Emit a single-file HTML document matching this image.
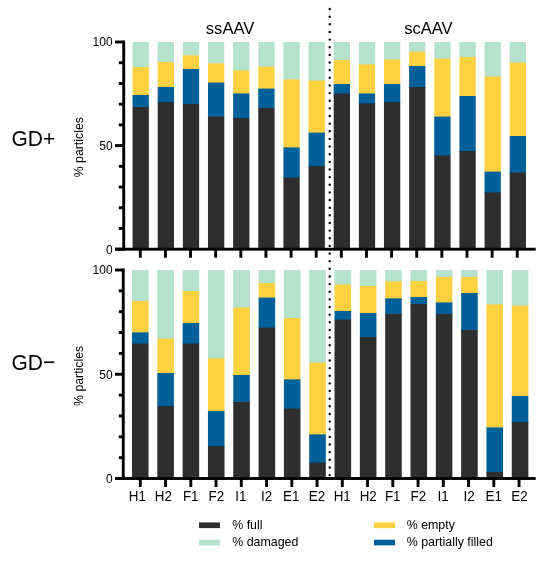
<!DOCTYPE html>
<html><head><meta charset="utf-8"><title>AAV particles</title>
<style>html,body{margin:0;padding:0;background:#fff}svg{display:block}text{font-family:"Liberation Sans",sans-serif;fill:#000}</style>
</head><body>
<svg width="550" height="564" viewBox="0 0 550 564">
<rect width="550" height="564" fill="#fff"/>
<rect x="132.55" y="42.00" width="16.30" height="25.70" fill="#b5e2cd"/>
<rect x="132.55" y="67.00" width="16.30" height="28.70" fill="#fed141"/>
<rect x="132.55" y="95.00" width="16.30" height="12.70" fill="#00609a"/>
<rect x="132.55" y="107.00" width="16.30" height="142.20" fill="#2e2e2e"/>
<rect x="157.69" y="42.00" width="16.30" height="20.70" fill="#b5e2cd"/>
<rect x="157.69" y="62.00" width="16.30" height="25.70" fill="#fed141"/>
<rect x="157.69" y="87.00" width="16.30" height="15.70" fill="#00609a"/>
<rect x="157.69" y="102.00" width="16.30" height="147.20" fill="#2e2e2e"/>
<rect x="182.83" y="42.00" width="16.30" height="14.10" fill="#b5e2cd"/>
<rect x="182.83" y="55.40" width="16.30" height="14.30" fill="#fed141"/>
<rect x="182.83" y="69.00" width="16.30" height="35.70" fill="#00609a"/>
<rect x="182.83" y="104.00" width="16.30" height="145.20" fill="#2e2e2e"/>
<rect x="207.98" y="42.00" width="16.30" height="22.10" fill="#b5e2cd"/>
<rect x="207.98" y="63.40" width="16.30" height="19.90" fill="#fed141"/>
<rect x="207.98" y="82.60" width="16.30" height="34.70" fill="#00609a"/>
<rect x="207.98" y="116.60" width="16.30" height="132.60" fill="#2e2e2e"/>
<rect x="233.12" y="42.00" width="16.30" height="29.10" fill="#b5e2cd"/>
<rect x="233.12" y="70.40" width="16.30" height="23.70" fill="#fed141"/>
<rect x="233.12" y="93.40" width="16.30" height="25.30" fill="#00609a"/>
<rect x="233.12" y="118.00" width="16.30" height="131.20" fill="#2e2e2e"/>
<rect x="258.26" y="42.00" width="16.30" height="25.30" fill="#b5e2cd"/>
<rect x="258.26" y="66.60" width="16.30" height="22.70" fill="#fed141"/>
<rect x="258.26" y="88.60" width="16.30" height="20.10" fill="#00609a"/>
<rect x="258.26" y="108.00" width="16.30" height="141.20" fill="#2e2e2e"/>
<rect x="283.40" y="42.00" width="16.30" height="38.10" fill="#b5e2cd"/>
<rect x="283.40" y="79.40" width="16.30" height="68.70" fill="#fed141"/>
<rect x="283.40" y="147.40" width="16.30" height="30.90" fill="#00609a"/>
<rect x="283.40" y="177.60" width="16.30" height="71.60" fill="#2e2e2e"/>
<rect x="308.54" y="42.00" width="16.30" height="39.30" fill="#b5e2cd"/>
<rect x="308.54" y="80.60" width="16.30" height="52.70" fill="#fed141"/>
<rect x="308.54" y="132.60" width="16.30" height="34.10" fill="#00609a"/>
<rect x="308.54" y="166.00" width="16.30" height="83.20" fill="#2e2e2e"/>
<rect x="333.69" y="42.00" width="16.30" height="18.70" fill="#b5e2cd"/>
<rect x="333.69" y="60.00" width="16.30" height="24.70" fill="#fed141"/>
<rect x="333.69" y="84.00" width="16.30" height="10.30" fill="#00609a"/>
<rect x="333.69" y="93.60" width="16.30" height="155.60" fill="#2e2e2e"/>
<rect x="358.83" y="42.00" width="16.30" height="23.10" fill="#b5e2cd"/>
<rect x="358.83" y="64.40" width="16.30" height="29.70" fill="#fed141"/>
<rect x="358.83" y="93.40" width="16.30" height="10.70" fill="#00609a"/>
<rect x="358.83" y="103.40" width="16.30" height="145.80" fill="#2e2e2e"/>
<rect x="383.97" y="42.00" width="16.30" height="18.10" fill="#b5e2cd"/>
<rect x="383.97" y="59.40" width="16.30" height="25.30" fill="#fed141"/>
<rect x="383.97" y="84.00" width="16.30" height="18.70" fill="#00609a"/>
<rect x="383.97" y="102.00" width="16.30" height="147.20" fill="#2e2e2e"/>
<rect x="409.11" y="42.00" width="16.30" height="10.30" fill="#b5e2cd"/>
<rect x="409.11" y="51.60" width="16.30" height="15.10" fill="#fed141"/>
<rect x="409.11" y="66.00" width="16.30" height="21.70" fill="#00609a"/>
<rect x="409.11" y="87.00" width="16.30" height="162.20" fill="#2e2e2e"/>
<rect x="434.25" y="42.00" width="16.30" height="17.30" fill="#b5e2cd"/>
<rect x="434.25" y="58.60" width="16.30" height="58.70" fill="#fed141"/>
<rect x="434.25" y="116.60" width="16.30" height="39.50" fill="#00609a"/>
<rect x="434.25" y="155.40" width="16.30" height="93.80" fill="#2e2e2e"/>
<rect x="459.40" y="42.00" width="16.30" height="15.70" fill="#b5e2cd"/>
<rect x="459.40" y="57.00" width="16.30" height="39.70" fill="#fed141"/>
<rect x="459.40" y="96.00" width="16.30" height="55.70" fill="#00609a"/>
<rect x="459.40" y="151.00" width="16.30" height="98.20" fill="#2e2e2e"/>
<rect x="484.54" y="42.00" width="16.30" height="35.30" fill="#b5e2cd"/>
<rect x="484.54" y="76.60" width="16.30" height="95.70" fill="#fed141"/>
<rect x="484.54" y="171.60" width="16.30" height="21.50" fill="#00609a"/>
<rect x="484.54" y="192.40" width="16.30" height="56.80" fill="#2e2e2e"/>
<rect x="509.68" y="42.00" width="16.30" height="21.30" fill="#b5e2cd"/>
<rect x="509.68" y="62.60" width="16.30" height="74.10" fill="#fed141"/>
<rect x="509.68" y="136.00" width="16.30" height="37.30" fill="#00609a"/>
<rect x="509.68" y="172.60" width="16.30" height="76.60" fill="#2e2e2e"/>
<rect x="122.25" y="40.55" width="2.9" height="210.10" fill="#000"/>
<rect x="115" y="247.75" width="420.70000000000005" height="2.9" fill="#000"/>
<rect x="115" y="247.75" width="8.70" height="2.9" fill="#000"/>
<rect x="118.8" y="227.03" width="4.90" height="2.9" fill="#000"/>
<rect x="118.8" y="206.31" width="4.90" height="2.9" fill="#000"/>
<rect x="118.8" y="185.59" width="4.90" height="2.9" fill="#000"/>
<rect x="118.8" y="164.87" width="4.90" height="2.9" fill="#000"/>
<rect x="115" y="144.15" width="8.70" height="2.9" fill="#000"/>
<rect x="118.8" y="123.43" width="4.90" height="2.9" fill="#000"/>
<rect x="118.8" y="102.71" width="4.90" height="2.9" fill="#000"/>
<rect x="118.8" y="81.99" width="4.90" height="2.9" fill="#000"/>
<rect x="118.8" y="61.27" width="4.90" height="2.9" fill="#000"/>
<rect x="115" y="40.55" width="8.70" height="2.9" fill="#000"/>
<rect x="138.85" y="249.20" width="2.9" height="8.5" fill="#000"/>
<rect x="163.98" y="249.20" width="2.9" height="8.5" fill="#000"/>
<rect x="189.11" y="249.20" width="2.9" height="8.5" fill="#000"/>
<rect x="214.24" y="249.20" width="2.9" height="8.5" fill="#000"/>
<rect x="239.37" y="249.20" width="2.9" height="8.5" fill="#000"/>
<rect x="264.50" y="249.20" width="2.9" height="8.5" fill="#000"/>
<rect x="289.63" y="249.20" width="2.9" height="8.5" fill="#000"/>
<rect x="314.76" y="249.20" width="2.9" height="8.5" fill="#000"/>
<rect x="339.89" y="249.20" width="2.9" height="8.5" fill="#000"/>
<rect x="365.02" y="249.20" width="2.9" height="8.5" fill="#000"/>
<rect x="390.15" y="249.20" width="2.9" height="8.5" fill="#000"/>
<rect x="415.28" y="249.20" width="2.9" height="8.5" fill="#000"/>
<rect x="440.41" y="249.20" width="2.9" height="8.5" fill="#000"/>
<rect x="465.54" y="249.20" width="2.9" height="8.5" fill="#000"/>
<rect x="490.67" y="249.20" width="2.9" height="8.5" fill="#000"/>
<rect x="515.80" y="249.20" width="2.9" height="8.5" fill="#000"/>
<text transform="translate(112.6,253.50) scale(1,1.05)" text-anchor="end" font-size="12">0</text>
<text transform="translate(112.6,149.90) scale(1,1.05)" text-anchor="end" font-size="12">50</text>
<text transform="translate(112.6,46.30) scale(1,1.05)" text-anchor="end" font-size="12">100</text>
<text transform="translate(83.3,147.2) rotate(-90)" text-anchor="middle" font-size="12.3">% particles</text>
<rect x="131.97" y="270.00" width="16.60" height="31.70" fill="#b5e2cd"/>
<rect x="131.97" y="301.00" width="16.60" height="32.10" fill="#fed141"/>
<rect x="131.97" y="332.40" width="16.60" height="11.90" fill="#00609a"/>
<rect x="131.97" y="343.60" width="16.60" height="134.90" fill="#2e2e2e"/>
<rect x="157.29" y="270.00" width="16.60" height="69.30" fill="#b5e2cd"/>
<rect x="157.29" y="338.60" width="16.60" height="35.10" fill="#fed141"/>
<rect x="157.29" y="373.00" width="16.60" height="33.70" fill="#00609a"/>
<rect x="157.29" y="406.00" width="16.60" height="72.50" fill="#2e2e2e"/>
<rect x="182.61" y="270.00" width="16.60" height="21.70" fill="#b5e2cd"/>
<rect x="182.61" y="291.00" width="16.60" height="32.70" fill="#fed141"/>
<rect x="182.61" y="323.00" width="16.60" height="21.30" fill="#00609a"/>
<rect x="182.61" y="343.60" width="16.60" height="134.90" fill="#2e2e2e"/>
<rect x="207.93" y="270.00" width="16.60" height="89.10" fill="#b5e2cd"/>
<rect x="207.93" y="358.40" width="16.60" height="53.30" fill="#fed141"/>
<rect x="207.93" y="411.00" width="16.60" height="35.70" fill="#00609a"/>
<rect x="207.93" y="446.00" width="16.60" height="32.50" fill="#2e2e2e"/>
<rect x="233.25" y="270.00" width="16.60" height="38.10" fill="#b5e2cd"/>
<rect x="233.25" y="307.40" width="16.60" height="68.30" fill="#fed141"/>
<rect x="233.25" y="375.00" width="16.60" height="27.70" fill="#00609a"/>
<rect x="233.25" y="402.00" width="16.60" height="76.50" fill="#2e2e2e"/>
<rect x="258.57" y="270.00" width="16.60" height="13.70" fill="#b5e2cd"/>
<rect x="258.57" y="283.00" width="16.60" height="15.30" fill="#fed141"/>
<rect x="258.57" y="297.60" width="16.60" height="30.70" fill="#00609a"/>
<rect x="258.57" y="327.60" width="16.60" height="150.90" fill="#2e2e2e"/>
<rect x="283.89" y="270.00" width="16.60" height="48.70" fill="#b5e2cd"/>
<rect x="283.89" y="318.00" width="16.60" height="62.10" fill="#fed141"/>
<rect x="283.89" y="379.40" width="16.60" height="29.90" fill="#00609a"/>
<rect x="283.89" y="408.60" width="16.60" height="69.90" fill="#2e2e2e"/>
<rect x="309.21" y="270.00" width="16.60" height="93.30" fill="#b5e2cd"/>
<rect x="309.21" y="362.60" width="16.60" height="72.50" fill="#fed141"/>
<rect x="309.21" y="434.40" width="16.60" height="28.90" fill="#00609a"/>
<rect x="309.21" y="462.60" width="16.60" height="15.90" fill="#2e2e2e"/>
<rect x="334.53" y="270.00" width="16.60" height="15.30" fill="#b5e2cd"/>
<rect x="334.53" y="284.60" width="16.60" height="27.10" fill="#fed141"/>
<rect x="334.53" y="311.00" width="16.60" height="9.30" fill="#00609a"/>
<rect x="334.53" y="319.60" width="16.60" height="158.90" fill="#2e2e2e"/>
<rect x="359.85" y="270.00" width="16.60" height="16.70" fill="#b5e2cd"/>
<rect x="359.85" y="286.00" width="16.60" height="27.70" fill="#fed141"/>
<rect x="359.85" y="313.00" width="16.60" height="24.70" fill="#00609a"/>
<rect x="359.85" y="337.00" width="16.60" height="141.50" fill="#2e2e2e"/>
<rect x="385.17" y="270.00" width="16.60" height="12.10" fill="#b5e2cd"/>
<rect x="385.17" y="281.40" width="16.60" height="17.70" fill="#fed141"/>
<rect x="385.17" y="298.40" width="16.60" height="16.30" fill="#00609a"/>
<rect x="385.17" y="314.00" width="16.60" height="164.50" fill="#2e2e2e"/>
<rect x="410.49" y="270.00" width="16.60" height="11.70" fill="#b5e2cd"/>
<rect x="410.49" y="281.00" width="16.60" height="16.70" fill="#fed141"/>
<rect x="410.49" y="297.00" width="16.60" height="7.70" fill="#00609a"/>
<rect x="410.49" y="304.00" width="16.60" height="174.50" fill="#2e2e2e"/>
<rect x="435.81" y="270.00" width="16.60" height="7.70" fill="#b5e2cd"/>
<rect x="435.81" y="277.00" width="16.60" height="26.10" fill="#fed141"/>
<rect x="435.81" y="302.40" width="16.60" height="12.30" fill="#00609a"/>
<rect x="435.81" y="314.00" width="16.60" height="164.50" fill="#2e2e2e"/>
<rect x="461.13" y="270.00" width="16.60" height="7.70" fill="#b5e2cd"/>
<rect x="461.13" y="277.00" width="16.60" height="16.70" fill="#fed141"/>
<rect x="461.13" y="293.00" width="16.60" height="37.70" fill="#00609a"/>
<rect x="461.13" y="330.00" width="16.60" height="148.50" fill="#2e2e2e"/>
<rect x="486.45" y="270.00" width="16.60" height="35.10" fill="#b5e2cd"/>
<rect x="486.45" y="304.40" width="16.60" height="123.70" fill="#fed141"/>
<rect x="486.45" y="427.40" width="16.60" height="45.30" fill="#00609a"/>
<rect x="486.45" y="472.00" width="16.60" height="6.50" fill="#2e2e2e"/>
<rect x="511.77" y="270.00" width="16.60" height="36.30" fill="#b5e2cd"/>
<rect x="511.77" y="305.60" width="16.60" height="91.10" fill="#fed141"/>
<rect x="511.77" y="396.00" width="16.60" height="26.70" fill="#00609a"/>
<rect x="511.77" y="422.00" width="16.60" height="56.50" fill="#2e2e2e"/>
<rect x="121.80" y="268.55" width="2.9" height="211.40" fill="#000"/>
<rect x="115" y="477.05" width="420.70000000000005" height="2.9" fill="#000"/>
<rect x="115" y="477.05" width="8.25" height="2.9" fill="#000"/>
<rect x="118.8" y="456.20" width="4.45" height="2.9" fill="#000"/>
<rect x="118.8" y="435.35" width="4.45" height="2.9" fill="#000"/>
<rect x="118.8" y="414.50" width="4.45" height="2.9" fill="#000"/>
<rect x="118.8" y="393.65" width="4.45" height="2.9" fill="#000"/>
<rect x="115" y="372.80" width="8.25" height="2.9" fill="#000"/>
<rect x="118.8" y="351.95" width="4.45" height="2.9" fill="#000"/>
<rect x="118.8" y="331.10" width="4.45" height="2.9" fill="#000"/>
<rect x="118.8" y="310.25" width="4.45" height="2.9" fill="#000"/>
<rect x="118.8" y="289.40" width="4.45" height="2.9" fill="#000"/>
<rect x="115" y="268.55" width="8.25" height="2.9" fill="#000"/>
<rect x="138.85" y="478.50" width="2.9" height="8.5" fill="#000"/>
<rect x="164.10" y="478.50" width="2.9" height="8.5" fill="#000"/>
<rect x="189.35" y="478.50" width="2.9" height="8.5" fill="#000"/>
<rect x="214.60" y="478.50" width="2.9" height="8.5" fill="#000"/>
<rect x="239.85" y="478.50" width="2.9" height="8.5" fill="#000"/>
<rect x="265.10" y="478.50" width="2.9" height="8.5" fill="#000"/>
<rect x="290.35" y="478.50" width="2.9" height="8.5" fill="#000"/>
<rect x="315.60" y="478.50" width="2.9" height="8.5" fill="#000"/>
<rect x="340.85" y="478.50" width="2.9" height="8.5" fill="#000"/>
<rect x="366.10" y="478.50" width="2.9" height="8.5" fill="#000"/>
<rect x="391.35" y="478.50" width="2.9" height="8.5" fill="#000"/>
<rect x="416.60" y="478.50" width="2.9" height="8.5" fill="#000"/>
<rect x="441.85" y="478.50" width="2.9" height="8.5" fill="#000"/>
<rect x="467.10" y="478.50" width="2.9" height="8.5" fill="#000"/>
<rect x="492.35" y="478.50" width="2.9" height="8.5" fill="#000"/>
<rect x="517.60" y="478.50" width="2.9" height="8.5" fill="#000"/>
<text transform="translate(112.6,482.80) scale(1,1.05)" text-anchor="end" font-size="12">0</text>
<text transform="translate(112.6,378.55) scale(1,1.05)" text-anchor="end" font-size="12">50</text>
<text transform="translate(112.6,274.30) scale(1,1.05)" text-anchor="end" font-size="12">100</text>
<text transform="translate(83.3,375.9) rotate(-90)" text-anchor="middle" font-size="12.3">% particles</text>
<text transform="translate(137.40,501.40) scale(1,1.05)" text-anchor="middle" font-size="13.4">H1</text>
<text transform="translate(163.40,501.40) scale(1,1.05)" text-anchor="middle" font-size="13.4">H2</text>
<text transform="translate(190.70,501.40) scale(1,1.05)" text-anchor="middle" font-size="13.4">F1</text>
<text transform="translate(216.40,501.40) scale(1,1.05)" text-anchor="middle" font-size="13.4">F2</text>
<text transform="translate(240.80,501.40) scale(1,1.05)" text-anchor="middle" font-size="13.4">I1</text>
<text transform="translate(266.70,501.40) scale(1,1.05)" text-anchor="middle" font-size="13.4">I2</text>
<text transform="translate(291.20,501.40) scale(1,1.05)" text-anchor="middle" font-size="13.4">E1</text>
<text transform="translate(316.90,501.40) scale(1,1.05)" text-anchor="middle" font-size="13.4">E2</text>
<text transform="translate(342.20,501.40) scale(1,1.05)" text-anchor="middle" font-size="13.4">H1</text>
<text transform="translate(368.20,501.40) scale(1,1.05)" text-anchor="middle" font-size="13.4">H2</text>
<text transform="translate(392.70,501.40) scale(1,1.05)" text-anchor="middle" font-size="13.4">F1</text>
<text transform="translate(418.30,501.40) scale(1,1.05)" text-anchor="middle" font-size="13.4">F2</text>
<text transform="translate(443.20,501.40) scale(1,1.05)" text-anchor="middle" font-size="13.4">I1</text>
<text transform="translate(469.00,501.40) scale(1,1.05)" text-anchor="middle" font-size="13.4">I2</text>
<text transform="translate(493.80,501.40) scale(1,1.05)" text-anchor="middle" font-size="13.4">E1</text>
<text transform="translate(519.50,501.40) scale(1,1.05)" text-anchor="middle" font-size="13.4">E2</text>
<line x1="329.7" y1="9.04" x2="329.7" y2="476" stroke="#000" stroke-width="2.4" stroke-linecap="round" stroke-dasharray="0 7.64"/>
<text transform="translate(230.1,33.5) scale(1,1.04)" text-anchor="middle" font-size="16.6">ssAAV</text>
<text transform="translate(428.4,33.5) scale(1,1.04)" text-anchor="middle" font-size="16.5">scAAV</text>
<text transform="translate(11.5,145.9) scale(1,1.09)" font-size="21">GD+</text>
<text transform="translate(11.4,370.1) scale(1,1.09)" font-size="21">GD−</text>
<rect x="199" y="522.4" width="21" height="5.7" fill="#2e2e2e"/>
<text x="232.2" y="529.3" font-size="12.4">% full</text>
<rect x="199" y="539.7" width="21" height="5.7" fill="#b5e2cd"/>
<text x="232.2" y="546.4" font-size="12.4">% damaged</text>
<rect x="374" y="522.4" width="21" height="5.7" fill="#fed141"/>
<text x="406.7" y="529.3" font-size="12.4">% empty</text>
<rect x="374" y="539.7" width="21" height="5.7" fill="#00609a"/>
<text x="406.7" y="546.4" font-size="12.4">% partially filled</text>
</svg>
</body></html>
